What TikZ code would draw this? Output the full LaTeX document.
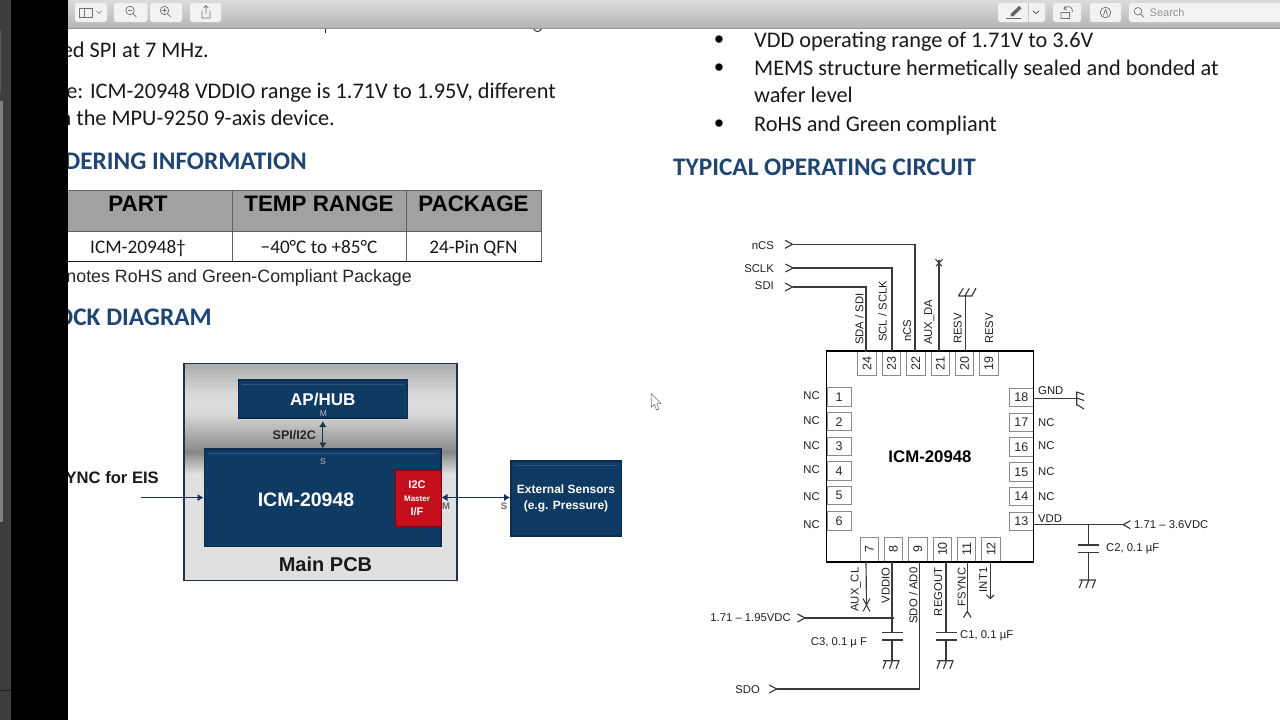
\documentclass[tikz,border=0pt]{standalone}
\usepackage{fontspec}
\setmainfont{Liberation Sans}
\newfontfamily\carl{Carlito}
\usetikzlibrary{arrows.meta}
\definecolor{wirec}{HTML}{3A3A3A}
\definecolor{pinc}{HTML}{8A8A8A}
\definecolor{navy}{HTML}{0F3A64}
\definecolor{navydk}{HTML}{0B2C4E}
\definecolor{navyhi}{HTML}{2B5781}
\definecolor{headc}{HTML}{1F4573}
\definecolor{edge}{HTML}{1C3350}
\definecolor{redbox}{HTML}{C30F1C}
\newcommand{\fs}[1]{\fontsize{#1}{#1}\selectfont}
\tikzset{
 x=1pt,y=-1pt,
 wire/.style={draw=wirec,line width=1.15pt},
 pinbox/.style={draw=pinc,line width=1pt,fill=white,inner sep=0pt,font=\fs{12.5},text=black!85},
 vpin/.style={pinbox,minimum width=24pt,minimum height=18.4pt},
 hpin/.style={pinbox,minimum width=24pt,minimum height=18.4pt},
 sch/.style={inner sep=0pt,font=\fs{11.3},text=black!88},
 schv/.style={sch,rotate=90,anchor=west},
 doc/.style={inner sep=0pt,font=\carl\fs{22.3},text=black!90,anchor=base east},
 docl/.style={inner sep=0pt,font=\carl\fs{22.3},text=black!90,anchor=base west},
 head/.style={inner sep=0pt,font=\carl\bfseries\fs{25.3},text=headc,anchor=base east},
 thead/.style={inner sep=0pt,font=\bfseries\fs{22.4},text=black,anchor=base},
 tcell/.style={inner sep=0pt,font=\carl\fs{19.2},text=black!90,anchor=base},
 block/.style={fill=navy,draw=navydk,line width=1.6pt,inner sep=0pt,text=white,font=\bfseries},
 bevel/.style={draw=navyhi,line width=0.9pt},
 link/.style={draw=edge,line width=1.2pt},
 dbl/.style={link,{Latex[length=6pt,width=7.5pt]}-{Latex[length=6pt,width=7.5pt]}},
 sgl/.style={link,-{Latex[length=6pt,width=7.5pt]}},
 btn/.style={fill=black!5,rounded corners=2.5pt,draw=none},
 ico/.style={draw=black!55,line width=0.7pt},
}
\newcommand{\gnddown}[1]{\draw[wire] ([shift={(-9,0)}]#1) -- ([shift={(7.5,0)}]#1)
  ([shift={(-6,0)}]#1) -- ([shift={(-9,8)}]#1)
  ([shift={(0.5,0)}]#1) -- ([shift={(-2.5,8)}]#1)
  ([shift={(7,0)}]#1) -- ([shift={(4,8)}]#1);}
\newcommand{\capac}[1]{\draw[wire,line width=1.5pt] ([shift={(-10.5,-3.7)}]#1) -- ([shift={(10.5,-3.7)}]#1)
  ([shift={(-10.5,3.7)}]#1) -- ([shift={(10.5,3.7)}]#1);}
\newcommand{\chevR}[1]{\draw[wire] ([shift={(-7.5,-4)}]#1) -- (#1) -- ([shift={(-7.5,4)}]#1);}
\begin{document}
\begin{tikzpicture}
\useasboundingbox (0,0) rectangle (1280,720);
\fill[white] (0,0) rectangle (1280,720);

% ---- document text, left column
\node[doc] (t1) at (209,57) {ed SPI at 7 MHz.};
\node[doc] (t2) at (556,98) {e: ICM-20948 VDDIO range is 1.71V to 1.95V, different};
\node[doc] (t3) at (335,125) {n the MPU-9250 9-axis device.};
\node[head] (h1) at (307,169) {DERING INFORMATION};
\node[head] (h2) at (212,325.5) {OCK DIAGRAM};

% ---- table
\fill[black!37] (60,190) rectangle (542,231);
\draw[black!62,line width=1pt] (60,190) -- (542,190) (60,231) -- (542,231)
  (232.7,190) -- (232.7,261) (406,190) -- (406,261) (541.7,190) -- (541.7,261);
\draw[black!90,line width=0.9pt] (60,261) -- (542,261);
\node[thead] (c1) at (138,211) {PART};
\node[thead] (c2) at (319,211) {TEMP RANGE};
\node[thead] (c3) at (473.5,211) {PACKAGE};
\node[tcell] (d1) at (138,253) {ICM-20948†};
\node[tcell] (d2) at (319,253) {−40°C to +85°C};
\node[tcell] (d3) at (473.5,253) {24-Pin QFN};
\node[inner sep=0pt,anchor=base east,font=\fs{17.8},text=black!85] (note) at (412,282) {notes RoHS and Green-Compliant Package};

% ---- right column text
\foreach \n/\yy in {a/47,b/75,c/131}{\node[inner sep=0pt,font=\fs{27}] (bul\n) at (719,\yy-5) {•};}
\node[docl] (r1) at (754,47.5) {VDD operating range of 1.71V to 3.6V};
\node[docl] (r2) at (754,75.5) {MEMS structure hermetically sealed and bonded at};
\node[docl] (r3) at (754,102.5) {wafer level};
\node[docl] (r4) at (754,131) {RoHS and Green compliant};
\node[inner sep=0pt,anchor=base west,font=\carl\bfseries\fs{25.3},text=headc] (h3) at (673,175) {TYPICAL OPERATING CIRCUIT};

% ---- block diagram
\shade[top color=black!33,bottom color=black!14] (184,363.5) rectangle (457,395);
\fill[black!14] (184,395) rectangle (457,412);
\shade[top color=black!14,bottom color=black!47] (184,412) rectangle (457,452);
\shade[top color=black!47,bottom color=black!12] (184,452) rectangle (457,474);
\fill[black!12] (184,474) rectangle (457,580.5);
\node[draw=edge,line width=1.6pt,minimum width=273pt,minimum height=217pt,inner sep=0pt] (pcb) at (320.5,472) {};
\node[block,minimum width=169pt,minimum height=38pt,font=\bfseries\fs{17}] (hub) at (322.8,399.2) {AP/HUB};
\draw[bevel] (242,384) -- (404,384);
\node[block,minimum width=236.5pt,minimum height=97.5pt] (icm) at (322.6,497.8) {};
\draw[bevel] (208,453) -- (437,453);
\node[inner sep=0pt,text=white,font=\bfseries\fs{19.5}] (icmt) at (306,499.5) {ICM-20948};
\node[fill=redbox,draw=red!55!black,line width=0.6pt,minimum width=46pt,minimum height=56pt,inner sep=0pt] (red) at (418,498) {};
\node[inner sep=0pt,text=white,font=\bfseries\fs{11}] (i2c) at (417,484.5) {I2C};
\node[inner sep=0pt,text=white,font=\bfseries\fs{8}] (mas) at (417,498.5) {Master};
\node[inner sep=0pt,text=white,font=\bfseries\fs{11}] (iif) at (417,511.5) {I/F};
\node[block,minimum width=110.6pt,minimum height=75.3pt,align=center,font=\bfseries\fs{12}] (ext) at (566,498.4) {External Sensors\\[3.5pt](e.g. Pressure)};
\draw[bevel] (514.5,465) -- (617.5,465);
\node[inner sep=0pt,font=\bfseries\fs{20},text=black!90] (mpcb) at (325.5,564.5) {Main PCB};
\node[inner sep=0pt,font=\bfseries\fs{12.5},text=black!85,anchor=east] (spi) at (316,435.5) {SPI/I2C};
\node[inner sep=0pt,font=\fs{8.5},text=black!25] (mm) at (323.5,414) {M};
\node[inner sep=0pt,font=\fs{8.5},text=black!25] (ss) at (323,462) {S};
\node[inner sep=0pt,font=\bfseries\fs{9.5},text=black!60] (m2) at (446,506.5) {M};
\node[inner sep=0pt,font=\bfseries\fs{9.5},text=black!60] (s2) at (504,506.5) {S};
\node[inner sep=0pt,font=\bfseries\fs{16.6},text=black!90,anchor=base east] (fsy) at (159,483) {YNC for EIS};
\draw[dbl] (322.8,421) coordinate (hubb) -- (322.8,448.5) coordinate (icmt2);
\coordinate (fsyncin) at (140.5,497.6);
\draw[sgl] (fsyncin) -- (fsyncin-|icm.west);
\draw[dbl] (441.5,497.5) coordinate (redr) -- (510,497.5) coordinate (extl);

% ---- cursor
\draw[black!55,fill=white,line width=0.6pt,line join=round] (651,393.5) -- (651.5,407) -- (654.5,404.5) -- (656.5,410) -- (658.8,409) -- (656.8,403.8) -- (661,403.5) -- cycle;

% ---- pins, then the chip outline above them
\foreach \num/\xx in {24/867,23/891.5,22/915.8,21/940.2,20/964.5,19/988.8}
  \node[vpin,rotate=90] (p\num) at (\xx,363.5) {\num};
\foreach \num/\xx in {7/869.2,8/893.3,9/917.8,10/942.5,11/966.7,12/991}
  \node[vpin,rotate=90] (p\num) at (\xx,549) {\num};
\foreach \num/\yy in {1/397,2/421.7,3/446.4,4/471,5/495.7,6/520.8}
  \node[hpin] (p\num) at (839,\yy) {\num};
\foreach \num/\yy in {18/397.5,17/422.3,16/447,15/471.8,14/496.6,13/521.5}
  \node[hpin] (p\num) at (1021.3,\yy) {\num};
\node[draw=black,line width=1.9pt,minimum width=207pt,minimum height=211pt,inner sep=0pt,font=\bfseries\fs{16.8}] (chip) at (930,456.5) {ICM-20948};
% side labels
\foreach \yy/\k in {396/a,421/b,446/c,470/d,497/e,525/f}
  \node[sch,anchor=east] (nl\k) at (820,\yy) {NC};
\foreach \yy/\k in {423/a,446/b,472/c,497/d}
  \node[sch,anchor=west] (nr\k) at (1038,\yy) {NC};
\node[sch,anchor=west] (lgnd) at (1038,391) {GND};
\node[sch,anchor=west] (lvdd) at (1038,519) {VDD};
% top labels
\node[schv] (l24) at (859.3,345) {SDA / SDI};
\node[schv] (l23) at (882.7,342) {SCL / SCLK};
\node[schv] (l22) at (907.3,342) {nCS};
\node[schv] (l21) at (929.3,345) {AUX\_DA};
\node[schv] (l20) at (957.7,344) {RESV};
\node[schv] (l19) at (989.3,344) {RESV};
% bottom labels
\node[schv,anchor=east] (l7) at (855.7,567.5) {AUX\_CL};
\node[schv,anchor=east] (l8) at (885.7,567.5) {VDDIO};
\node[schv,anchor=east] (l9) at (913.3,567.5) {SDO / AD0};
\node[schv,anchor=east] (l10) at (938.3,567.5) {REGOUT};
\node[schv,anchor=east] (l11) at (961.7,567.5) {FSYNC};
\node[schv,anchor=east] (l12) at (983.3,567.5) {INT1};
% external labels
\node[sch,anchor=east] (lncs) at (774,246) {nCS};
\node[sch,anchor=east] (lsclk) at (774,269) {SCLK};
\node[sch,anchor=east] (lsdi) at (774,286) {SDI};
\node[sch,anchor=east] (l195) at (791,618) {1.71 – 1.95VDC};
\node[sch,anchor=east] (lsdo) at (760,690) {SDO};
\node[sch,anchor=west] (l36) at (1134,524.5) {1.71 – 3.6VDC};
\node[sch,anchor=west] (lc2) at (1106,549) {C2, 0.1 µF};
\node[sch,anchor=west] (lc1) at (960,636) {C1, 0.1 µF};
\node[sch,anchor=west] (lc3) at (810.7,643) {C3, 0.1 µ F};
% coordinates of wires
\coordinate (tn) at (792.5,244.3);
\coordinate (ts) at (793,268);
\coordinate (td) at (792.5,287);
\coordinate (w24) at (866,352);
\coordinate (w23) at (892,351);
\coordinate (w22) at (915,351);
\coordinate (w21) at (939,351);
\coordinate (w20) at (965.7,351);
\coordinate (w7) at (866,561.7);
\coordinate (w8) at (892,561.7);
\coordinate (w9) at (919.3,561.7);
\coordinate (w10) at (946,561.7);
\coordinate (w11) at (967.3,561.7);
\coordinate (w12) at (990.3,561.7);
\coordinate (w18) at (1033,398.3);
\coordinate (w13) at (1033,524.7);
\coordinate (g20) at (965.7,296);
\coordinate (ax) at (939,262.7);
\coordinate (axt) at (939,259.5);
\coordinate (cx) at (866.5,605);
\coordinate (gvdd) at (1088.3,580);
\coordinate (c2) at (1088.3,548.7);
\coordinate (j13) at (1088.3,524.7);
\coordinate (tv) at (1123.3,524.7);
\coordinate (t8) at (805,618);
\coordinate (j8) at (892,618);
\coordinate (c3) at (892,636.3);
\coordinate (g8) at (892,660.7);
\coordinate (c1) at (946,636.3);
\coordinate (g10) at (946,660.7);
\coordinate (tsdo) at (776.7,689);
\coordinate (t11) at (967.3,611.5);
\coordinate (t12) at (990.3,598.5);
\coordinate (g18) at (1076.7,398.3);
% wires top
\chevR{tn} \chevR{ts} \chevR{td}
\draw[wire] (tn) -| (w22);
\draw[wire] (ts) -| (w23);
\draw[wire] (td) -| (w24);
\draw[wire] (axt) -- (w21);
\draw[wire,line width=1pt] ([shift={(-3.5,-3.5)}]ax) -- ([shift={(3,3.5)}]ax) ([shift={(3.5,-3.5)}]ax) -- ([shift={(-3,3.5)}]ax);
\draw[wire] (g20) -- (w20);
\draw[wire] (958.3,296) -- (972.5,296) (958.5,296) -- (963.3,288.3) (965,296) -- (969.3,288.3) (971.7,296) -- (976,288.3);
% wires right
\draw[wire] (w18) -- (g18);
\draw[wire] (1076.7,391.5) -- (1076.7,405.5) (1076.7,392) -- (1084,394.5) (1076.7,398) -- (1084,400.5) (1076.7,404.5) -- (1084,409);
\draw[wire] (w13) -- (tv);
\draw[wire] ([shift={(7,-4)}]tv) -- (tv) -- ([shift={(7,4)}]tv);
\draw[wire] (j13) -- (gvdd);
\fill[white] ([shift={(-9.5,-2.9)}]c2) rectangle ([shift={(9.5,2.9)}]c2);
\capac{c2}
\gnddown{gvdd}
% wires bottom
\draw[wire] (w7) -- (cx);
\draw[wire,line width=1pt] ([shift={(-3.5,-6.5)}]cx) -- ([shift={(3.5,6.5)}]cx) ([shift={(3.5,-6.5)}]cx) -- ([shift={(-3.5,6.5)}]cx);
\draw[wire] (w8) -- (j8);
\draw[wire] (t8) -- (894,618);
\chevR{t8}
\draw[wire] (j8) -- (g8);
\fill[white] ([shift={(-9.5,-2.9)}]c3) rectangle ([shift={(9.5,2.9)}]c3);
\capac{c3}
\gnddown{g8}
\draw[wire] (w9) |- (tsdo);
\chevR{tsdo}
\draw[wire] (w10) -- (g10);
\fill[white] ([shift={(-9.5,-2.9)}]c1) rectangle ([shift={(9.5,2.9)}]c1);
\capac{c1}
\gnddown{g10}
\draw[wire] (w11) -- (t11);
\draw[wire] ([shift={(-3.8,6)}]t11) -- (t11) -- ([shift={(3.8,6)}]t11);
\draw[wire] (w12) -- (t12);
\draw[wire] ([shift={(-3.8,-3.5)}]t12) -- (t12) -- ([shift={(3.8,-3.5)}]t12);

% ---- clipped descenders under the toolbar
\draw[black!85,line width=0.8pt] (325,28) -- (325,33);
\draw[black!85,line width=0.9pt] (533.5,28.5) .. controls (535,32.5) and (540,32.5) .. (541.5,28.5);

% ---- toolbar
\shade[top color=black!14,bottom color=black!29] (67,0) rectangle (1280,28);
\draw[black!42,line width=0.8pt] (67,28.3) -- (1280,28.3);
\fill[btn] (75,3) rectangle (107,22);
\fill[btn] (114,3) rectangle (147.5,22);
\fill[btn] (150,3) rectangle (182,22);
\fill[btn] (190,3) rectangle (221,22);
\fill[btn] (998,3) rectangle (1045,22);
\fill[btn] (1053,3) rectangle (1081,22);
\fill[btn] (1090,3) rectangle (1121,22);
\fill[btn,rounded corners=3pt] (1129,3) rectangle (1290,22);
\draw[black!22,line width=0.6pt] (1028,3) -- (1028,22);
\draw[ico] (79.5,8) rectangle (92,17.5) (84,8) -- (84,17.5);
\draw[ico] (96.5,11) -- (99,13.5) -- (101.5,11);
\draw[ico] (130,10.5) circle (4.2) (127.8,10.5) -- (132.2,10.5) (133,13.6) -- (136.5,17);
\draw[ico] (164.5,10.5) circle (4.2) (162.3,10.5) -- (166.7,10.5) (164.5,8.3) -- (164.5,12.7) (167.5,13.6) -- (171,17);
\draw[ico] (202,10.5) -- (202,18) -- (210,18) -- (210,10.5) (206,14) -- (206,6) (203.5,8.2) -- (206,5.7) -- (208.5,8.2);
\fill[black!60] (1011,13.5) -- (1019,6) -- (1021.5,8.5) -- (1013.5,16) -- (1010.5,16.5) -- cycle;
\draw[black!60,line width=1pt] (1006,18.5) -- (1021,18.5);
\draw[ico,black!70] (1033,11) -- (1036,13.5) -- (1039,11);
\draw[ico] (1061,12.5) rectangle (1069.5,18.5) (1064,9) .. controls (1068,4) and (1073,7) .. (1072.5,12) (1065,6) -- (1064,9) -- (1067,10);
\draw[ico] (1105.5,12.5) circle (5.3) (1103.3,15.5) -- (1105.5,9.5) -- (1107.7,15.5);
\draw[ico] (1138,11.3) circle (3.8) (1140.8,14.2) -- (1144,17.5);
\node[inner sep=0pt,anchor=west,font=\fs{11},text=black!42] (srch) at (1149.5,12.5) {Search};

% ---- black bar and side panel
\fill[black] (0,0) rectangle (67.5,720);
\fill[black!76] (0,0) rectangle (10.5,720);
\fill[black!50] (0,101) rectangle (3,522);
\fill[black!65] (0,30) rectangle (1,93);
\draw[black!88,line width=0.7pt] (0,690) -- (10.5,690);
\end{tikzpicture}
\end{document}
